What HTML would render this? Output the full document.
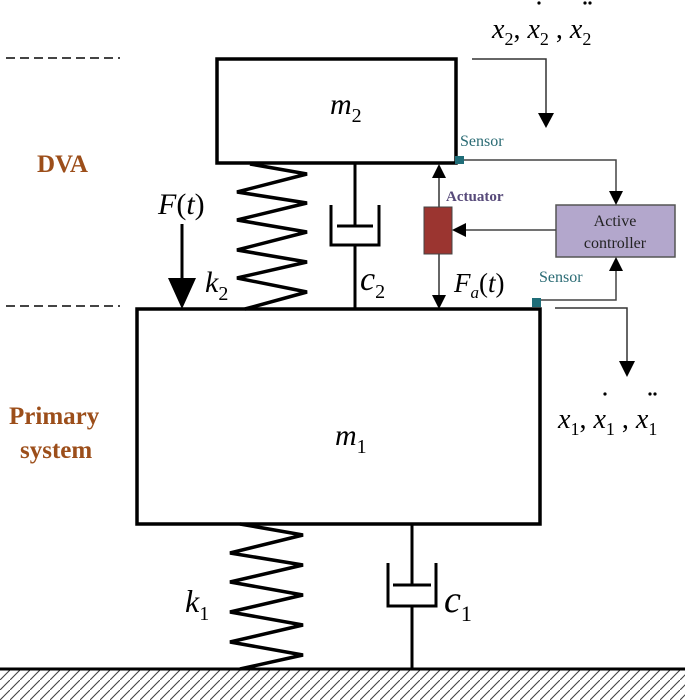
<!DOCTYPE html>
<html><head><meta charset="utf-8"><style>
html,body{margin:0;padding:0;background:#fff;}
svg{display:block;}
.it{font-family:"Liberation Serif",serif;font-style:italic;}
.sub{font-family:"Liberation Serif",serif;font-style:normal;}
</style></head><body>
<svg width="685" height="700" viewBox="0 0 685 700" xmlns="http://www.w3.org/2000/svg">
<defs>
<pattern id="h" width="10" height="10" patternUnits="userSpaceOnUse">
<path d="M-2 12 L12 -2" stroke="#444" stroke-width="1.1"/>
</pattern>
</defs>
<line x1="6" y1="58" x2="120" y2="58" stroke="#444" stroke-width="2" stroke-dasharray="9,5"/>
<line x1="6" y1="306" x2="120" y2="306" stroke="#444" stroke-width="2" stroke-dasharray="9,5"/>
<text x="37" y="172" font-family="Liberation Serif,serif" font-weight="bold" font-size="25" fill="#9c4e1a">DVA</text>
<text x="9" y="424" font-family="Liberation Serif,serif" font-weight="bold" font-size="25" fill="#9c4e1a">Primary</text>
<text x="20" y="458" font-family="Liberation Serif,serif" font-weight="bold" font-size="25" fill="#9c4e1a">system</text>

<rect x="217" y="59" width="239" height="104" fill="#fff" stroke="#000" stroke-width="3.5"/>
<text x="330" y="114" class="it" font-size="30">m<tspan class="sub" font-size="20" dy="8">2</tspan></text>
<rect x="137" y="309" width="403" height="215" fill="#fff" stroke="#000" stroke-width="3.5"/>
<text x="335" y="445" class="it" font-size="30">m<tspan class="sub" font-size="20" dy="8">1</tspan></text>

<polyline fill="none" stroke="#000" stroke-width="3.5" points="250,164 307,174 237,192 307,203 237,220 307,232 237,250 307,262 237,278 307,292 245,309"/>
<g stroke="#000" stroke-width="3" fill="none">
<line x1="355" y1="163" x2="355" y2="226"/>
<line x1="337" y1="226" x2="373" y2="226"/>
<polyline points="331,205 331,245 379,245 379,205"/>
<line x1="355" y1="245" x2="355" y2="309"/>
</g>
<text x="158" y="214" class="it" font-size="30">F<tspan class="sub">(</tspan>t<tspan class="sub">)</tspan></text>
<line x1="182" y1="224" x2="182" y2="282" stroke="#000" stroke-width="3"/>
<polygon points="168,278 196,278 182,309" fill="#000"/>
<text x="205" y="292" class="it" font-size="30">k<tspan class="sub" font-size="20" dy="8">2</tspan></text>
<text x="360" y="290" class="it" font-size="34">c<tspan class="sub" font-size="20" dy="8">2</tspan></text>

<line x1="439" y1="175" x2="439" y2="297" stroke="#333" stroke-width="1.5"/>
<polygon points="432,178 446,178 439,164" fill="#000"/>
<polygon points="432,295 446,295 439,309" fill="#000"/>
<rect x="424" y="207" width="28" height="47" fill="#9b3530" stroke="#444" stroke-width="1"/>
<text x="446" y="201" font-family="Liberation Serif,serif" font-weight="bold" font-size="15" fill="#574a7a">Actuator</text>
<text x="454" y="292" class="it" font-size="27">F<tspan class="it" font-size="17" dy="6">a</tspan><tspan class="sub" dy="-6">(</tspan>t<tspan class="sub">)</tspan></text>

<rect x="556" y="205" width="119" height="52" fill="#b3a7cc" stroke="#555" stroke-width="1.5"/>
<text x="615" y="226" text-anchor="middle" font-family="Liberation Serif,serif" font-size="16" fill="#222">Active</text>
<text x="615" y="248" text-anchor="middle" font-family="Liberation Serif,serif" font-size="16" fill="#222">controller</text>
<rect x="455" y="156" width="9" height="8" fill="#1f6d78"/>
<text x="460" y="146" font-family="Liberation Serif,serif" font-size="16" fill="#2a6b74">Sensor</text>
<polyline points="464,160 616,160 616,192" fill="none" stroke="#444" stroke-width="1.5"/>
<polygon points="609,191 623,191 616,205" fill="#000"/>
<line x1="556" y1="230" x2="465" y2="230" stroke="#444" stroke-width="1.5"/>
<polygon points="466,223 466,237 452,230" fill="#000"/>
<rect x="532" y="298" width="9" height="9" fill="#1f6d78"/>
<text x="539" y="282" font-family="Liberation Serif,serif" font-size="16" fill="#2a6b74">Sensor</text>
<polyline points="541,300 616,300 616,270" fill="none" stroke="#444" stroke-width="1.5"/>
<polygon points="609,271 623,271 616,257" fill="#000"/>

<polyline points="472,59 546,59 546,115" fill="none" stroke="#333" stroke-width="1.5"/>
<polygon points="538,113 554,113 546,128" fill="#000"/>
<text x="492" y="38" class="it" font-size="28">x<tspan class="sub" font-size="18" dy="7">2</tspan><tspan class="sub" dy="-7">, </tspan>x<tspan class="sub" font-size="18" dy="7">2</tspan><tspan class="sub" dy="-7"> , </tspan>x<tspan class="sub" font-size="18" dy="7">2</tspan></text>
<circle cx="539" cy="3" r="1.6" fill="#000"/>
<circle cx="585" cy="3" r="1.6" fill="#000"/><circle cx="590" cy="3" r="1.6" fill="#000"/>
<polyline points="555,308 627,308 627,362" fill="none" stroke="#333" stroke-width="1.5"/>
<polygon points="619,361 635,361 627,377" fill="#000"/>
<text x="558" y="428" class="it" font-size="28">x<tspan class="sub" font-size="18" dy="7">1</tspan><tspan class="sub" dy="-7">, </tspan>x<tspan class="sub" font-size="18" dy="7">1</tspan><tspan class="sub" dy="-7"> , </tspan>x<tspan class="sub" font-size="18" dy="7">1</tspan></text>
<circle cx="605" cy="394" r="1.6" fill="#000"/>
<circle cx="650" cy="394" r="1.6" fill="#000"/><circle cx="655" cy="394" r="1.6" fill="#000"/>

<polyline fill="none" stroke="#000" stroke-width="3.5" points="240,524 303,535 230,553 303,565 230,582 303,595 230,612 303,625 230,642 303,655 240,669"/>
<text x="185" y="612" class="it" font-size="32">k<tspan class="sub" font-size="20" dy="8">1</tspan></text>
<g stroke="#000" stroke-width="3" fill="none">
<line x1="412" y1="524" x2="412" y2="585"/>
<line x1="393" y1="585" x2="431" y2="585"/>
<polyline points="388,563 388,606 436,606 436,563"/>
<line x1="412" y1="606" x2="412" y2="669"/>
</g>
<text x="444" y="612" class="it" font-size="38">c<tspan class="sub" font-size="22" dy="9">1</tspan></text>

<rect x="0" y="670" width="685" height="30" fill="url(#h)"/>
<line x1="0" y1="669" x2="685" y2="669" stroke="#000" stroke-width="3"/>
</svg>
</body></html>
